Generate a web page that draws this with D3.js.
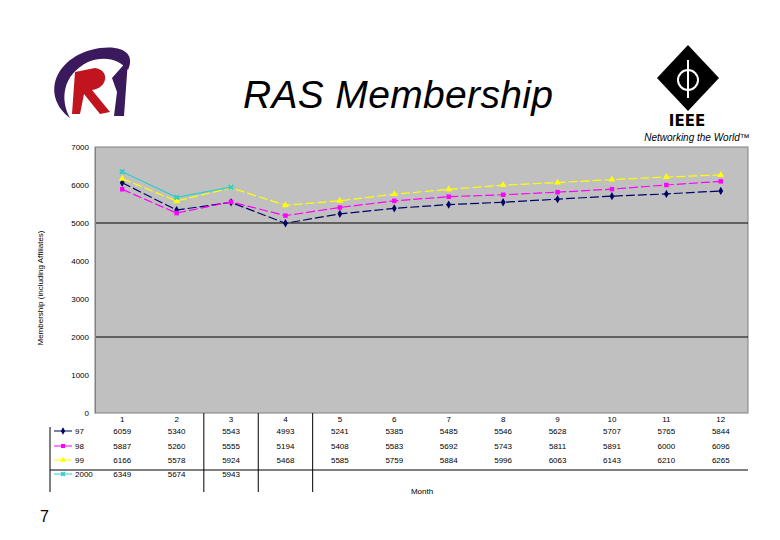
<!DOCTYPE html><html><head><meta charset="utf-8"><script src="https://cdn.jsdelivr.net/npm/d3@7"></script>
<style>body{margin:0;background:#fff}</style></head><body><svg id="c" width="780" height="540"></svg>
<script>
const months=["1","2","3","4","5","6","7","8","9","10","11","12"];
const seriesNames=["97","98","99","2000"];
const s97=[6059,5340,5543,4993,5241,5385,5485,5546,5628,5707,5765,5844];
const s98=[5887,5260,5555,5194,5408,5583,5692,5743,5811,5891,6000,6096];
const s99=[6166,5578,5924,5468,5585,5759,5884,5996,6063,6143,6210,6265];
const s2000=[6349,5674,5943];
const yTicks=[0,1000,2000,3000,4000,5000,6000,7000];
const colors=["#000066","#ff00ff","#ffff00","#33cccc"];
const data=[s97,s98,s99,s2000];
const svg=d3.select("#c");
const L=95,R=748,T=147,B=413;
const x=d3.scaleBand().domain(months).range([L,R]);
const y=d3.scaleLinear().domain([0,7000]).range([B,T]);
svg.append("rect").attr("x",L).attr("y",T).attr("width",R-L).attr("height",B-T).attr("fill","#c0c0c0").attr("stroke","#808080");
[2000,5000].forEach(v=>svg.append("line").attr("x1",L).attr("x2",R).attr("y1",y(v)).attr("y2",y(v)).attr("stroke","#000"));
const ya=svg.append("g").attr("transform",`translate(${L},0)`).call(d3.axisLeft(y).tickValues(yTicks).tickFormat(d3.format("d")).tickSize(0).tickPadding(6));
ya.select(".domain").attr("stroke","#808080");
ya.selectAll("text").attr("font-family","Liberation Sans").attr("font-size",8);
svg.append("text").attr("transform",`translate(43,${(T+B)/2+8}) rotate(-90)`).attr("text-anchor","middle").attr("font-family","Liberation Sans").attr("font-size",8).text("Membership (including Affiliates)");
const cx=m=>x(m)+x.bandwidth()/2;
const sym=[d3.symbolDiamond,d3.symbolSquare,d3.symbolTriangle,d3.symbolCross];
data.forEach((d,i)=>{
  const line=d3.line().x((v,j)=>cx(months[j])).y(v=>y(v));
  svg.append("path").attr("d",line(d)).attr("fill","none").attr("stroke",colors[i]).attr("stroke-width",1.2).attr("stroke-dasharray",i<3?"9,3":null);
  d.forEach((v,j)=>{
    svg.append("path").attr("transform",`translate(${cx(months[j])},${y(v)})${i==3?" rotate(45)":""}`).attr("d",d3.symbol(sym[i],i==3?22:20)()).attr("fill",colors[i]);
  });
});
const rowsY=[434,449,463,477];
const ft="Liberation Sans";
months.forEach(m=>svg.append("text").attr("x",cx(m)).attr("y",422).attr("text-anchor","middle").attr("font-family",ft).attr("font-size",8).text(m));
svg.append("line").attr("x1",50).attr("x2",50).attr("y1",427).attr("y2",492).attr("stroke","#000");
svg.append("line").attr("x1",50).attr("x2",R).attr("y1",470).attr("y2",470).attr("stroke","#000");
[2,3,4].forEach(k=>svg.append("line").attr("x1",x(months[k])).attr("x2",x(months[k])).attr("y1",413).attr("y2",492).attr("stroke","#000"));
data.forEach((d,i)=>{
  const ry=rowsY[i];
  svg.append("line").attr("x1",54).attr("x2",72).attr("y1",ry-3).attr("y2",ry-3).attr("stroke",colors[i]);
  svg.append("path").attr("transform",`translate(63,${ry-3})${i==3?" rotate(45)":""}`).attr("d",d3.symbol(sym[i],16)()).attr("fill",colors[i]);
  svg.append("text").attr("x",75).attr("y",ry).attr("font-family",ft).attr("font-size",8).text(seriesNames[i]);
  d.forEach((v,j)=>svg.append("text").attr("x",cx(months[j])).attr("y",ry).attr("text-anchor","middle").attr("font-family",ft).attr("font-size",8).text(v));
});
svg.append("text").attr("x",422).attr("y",494).attr("text-anchor","middle").attr("font-family",ft).attr("font-size",8).text("Month");
svg.append("text").attr("x",40).attr("y",522).attr("font-family",ft).attr("font-size",16).text("7");
svg.append("text").attr("x",398).attr("y",108).attr("text-anchor","middle").attr("font-family","Liberation Sans").attr("font-style","italic").attr("font-size",39).attr("textLength",310).text("RAS Membership");
const lg=svg.append("g");
lg.append("path").attr("d","M70,118 C40,95 55,55 100,48 C125,45 135,55 128,70 C120,60 105,55 88,62 C62,75 60,100 70,118 Z").attr("fill","#3a1a5c");
lg.append("path").attr("d","M75,72 L95,68 C110,70 108,88 92,90 L110,112 L100,114 L84,94 L80,114 L72,114 Z").attr("fill","#c0141e");
lg.append("path").attr("d","M112,78 L128,60 L124,116 L114,116 L117,92 Z").attr("fill","#3a1a5c");
const ie=svg.append("g");
ie.append("path").attr("d","M688,45 L719,78 L688,111 L657,78 Z").attr("fill","#000");
ie.append("circle").attr("cx",688).attr("cy",80).attr("r",10).attr("fill","none").attr("stroke","#fff").attr("stroke-width",2);
ie.append("line").attr("x1",688).attr("x2",688).attr("y1",60).attr("y2",98).attr("stroke","#fff").attr("stroke-width",2);
ie.append("text").attr("x",687).attr("y",126).attr("text-anchor","middle").attr("font-family","DejaVu Sans").attr("font-weight","bold").attr("font-size",15).text("IEEE");
ie.append("text").attr("x",697).attr("y",141).attr("text-anchor","middle").attr("font-family","Liberation Sans").attr("font-style","italic").attr("font-size",10).text("Networking the World\u2122");
</script></body></html>
